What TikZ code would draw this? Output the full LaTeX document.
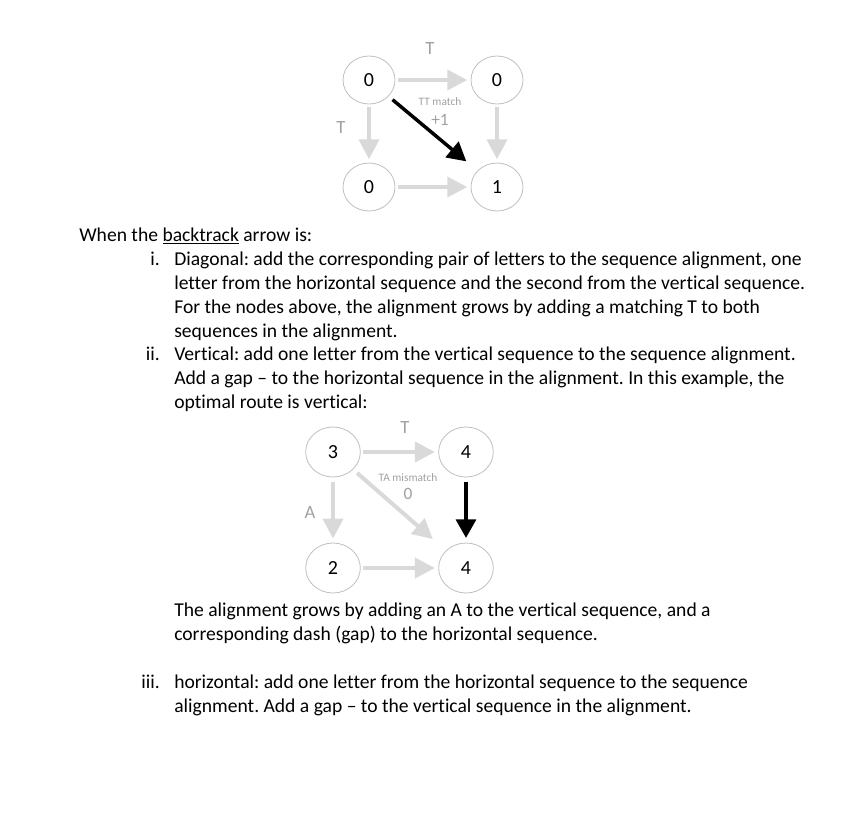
\documentclass[tikz,border=0pt]{standalone}
\usepackage{fontspec}
\setmainfont{Carlito}[Ligatures={CommonOff,TeX}]
\frenchspacing
\usetikzlibrary{arrows.meta,shapes.geometric}
\definecolor{arrgray}{HTML}{D9D9D9}
\definecolor{circgray}{HTML}{BFBFBF}
\definecolor{labgray}{HTML}{A0A0A0}
\tikzset{
  cnode/.style={ellipse, draw=circgray, line width=0.6pt, inner sep=0pt, minimum width=39pt, minimum height=36pt, font=\fontsize{15}{18}\selectfont},
  cnodeb/.style={cnode, minimum width=41pt, minimum height=37.5pt},
  garrow/.style={draw=arrgray, line width=3pt, -{Triangle[length=15pt,width=15pt]}, shorten <=2pt, shorten >=2.5pt},
  barrow/.style={draw=black, line width=2.6pt, -{Triangle[length=14pt,width=15pt]}},
  lab/.style={text=labgray, inner sep=0pt, font=\fontsize{14}{16}\selectfont},
  smalllab/.style={text=labgray, inner sep=0pt, font=\fontsize{8.5}{10}\selectfont},
  numlab/.style={text=labgray, inner sep=0pt, font=\fontsize{13}{15}\selectfont},
  bodytext/.style={anchor=base west, inner sep=0pt, font=\fontsize{14.7}{18}\selectfont},
  numtext/.style={anchor=base east, inner sep=0pt, font=\fontsize{14.7}{18}\selectfont}
}
\begin{document}
\begin{tikzpicture}[x=0.75pt,y=-0.75pt]
\useasboundingbox (0,0) rectangle (868,826);
% ---- diagram 1
\node[cnode] (a1) at (369,80) {0};
\node[cnode] (b1) at (497,80) {0};
\node[cnode] (c1) at (369,187) {0};
\node[cnode] (d1) at (497,187) {1};
\draw[garrow] (a1) -- (b1);
\draw[garrow] (a1) -- (c1);
\draw[garrow] (b1) -- (d1);
\draw[garrow] (c1) -- (d1);
\draw[barrow, shorten <=23pt, shorten >=30pt] (a1.center) -- (d1.center);
\node[lab] (t1) at (430,49) {T};
\node[lab] (t2) at (341,128) {T};
\node[smalllab] (m1) at (440,102) {TT match};
\node[numlab] (p1) at (440,120) {+1};
% ---- diagram 2
\node[cnodeb] (a2) at (333,452) {3};
\node[cnodeb] (b2) at (466,452) {4};
\node[cnodeb] (c2) at (333,568) {2};
\node[cnodeb] (d2) at (466,568) {4};
\draw[garrow] (a2) -- (b2);
\draw[garrow, shorten <=3.5pt, shorten >=3pt] (a2) -- (c2);
\draw[garrow] (c2) -- (d2);
\draw[garrow, shorten <=24pt, shorten >=33pt] (a2.center) -- (d2.center);
\draw[barrow, shorten <=3.5pt, shorten >=3.5pt] (b2) -- (d2);
\node[lab] (t3) at (405,428) {T};
\node[lab] (t4) at (310,513) {A};
\node[smalllab] (m2) at (408,478) {TA mismatch};
\node[numlab] (p2) at (408,494) {0};
% ---- text
\node[bodytext] (l0) at (79,241) {When the \underline{backtrack} arrow is:};
\node[numtext] (n1) at (160,265) {i.};
\node[bodytext] (l1) at (174,265) {Diagonal: add the corresponding pair of letters to the sequence alignment, one};
\node[bodytext] (l2) at (174,289) {letter from the horizontal sequence and the second from the vertical sequence.};
\node[bodytext] (l3) at (174,313) {For the nodes above, the alignment grows by adding a matching T to both};
\node[bodytext] (l4) at (174,337) {sequences in the alignment.};
\node[numtext] (n2) at (160,360) {ii.};
\node[bodytext] (l5) at (174,360) {Vertical: add one letter from the vertical sequence to the sequence alignment.};
\node[bodytext] (l6) at (174,384) {Add a gap -- to the horizontal sequence in the alignment. In this example, the};
\node[bodytext] (l7) at (174,408) {optimal route is vertical:};
\node[bodytext] (l8) at (174,616) {The alignment grows by adding an A to the vertical sequence, and a};
\node[bodytext] (l9) at (174,640) {corresponding dash (gap) to the horizontal sequence.};
\node[numtext] (n3) at (160,688) {iii.};
\node[bodytext] (l10) at (174,688) {horizontal: add one letter from the horizontal sequence to the sequence};
\node[bodytext] (l11) at (174,712) {alignment. Add a gap -- to the vertical sequence in the alignment.};
\end{tikzpicture}
\end{document}
